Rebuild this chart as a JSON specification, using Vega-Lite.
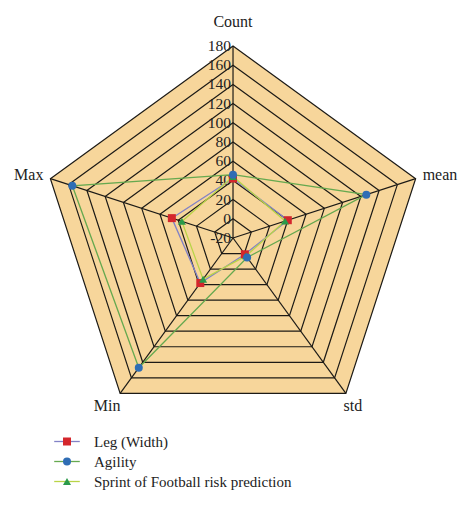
{
  "$schema": "https://vega.github.io/schema/vega-lite/v6.json",
  "description": "Radar chart of Leg (Width), Agility and Sprint statistics.",
  "width": 474,
  "height": 505,
  "padding": 0,
  "autosize": {"type": "none"},
  "background": "white",
  "config": {"view": {"stroke": null}},
  "datasets": {
    "axes": [
      {"axis": "Count", "levels": [-20, 0, 20, 40, 60, 80, 100, 120, 140, 160, 180]},
      {"axis": "mean", "levels": [-20, 0, 20, 40, 60, 80, 100, 120, 140, 160, 180]},
      {"axis": "std", "levels": [-20, 0, 20, 40, 60, 80, 100, 120, 140, 160, 180]},
      {"axis": "Min", "levels": [-20, 0, 20, 40, 60, 80, 100, 120, 140, 160, 180]},
      {"axis": "Max", "levels": [-20, 0, 20, 40, 60, 80, 100, 120, 140, 160, 180]}
    ],
    "scores": [
      {"series": "Leg (Width)", "axis": "Count", "value": 42},
      {"series": "Leg (Width)", "axis": "mean", "value": 40},
      {"series": "Leg (Width)", "axis": "std", "value": 1},
      {"series": "Leg (Width)", "axis": "Min", "value": 38},
      {"series": "Leg (Width)", "axis": "Max", "value": 47},
      {"series": "Sprint of Football risk prediction", "axis": "Count", "value": 44},
      {"series": "Sprint of Football risk prediction", "axis": "mean", "value": 37},
      {"series": "Sprint of Football risk prediction", "axis": "std", "value": 3},
      {"series": "Sprint of Football risk prediction", "axis": "Min", "value": 33},
      {"series": "Sprint of Football risk prediction", "axis": "Max", "value": 36},
      {"series": "Agility", "axis": "Count", "value": 46},
      {"series": "Agility", "axis": "mean", "value": 126},
      {"series": "Agility", "axis": "std", "value": 5},
      {"series": "Agility", "axis": "Min", "value": 147},
      {"series": "Agility", "axis": "Max", "value": 156}
    ]
  },
  "encoding": {
    "x": {"field": "px", "type": "quantitative", "scale": {"domain": [-242.7, 251.0], "nice": false, "zero": false}, "axis": null},
    "y": {"field": "py", "type": "quantitative", "scale": {"domain": [-278.1, 247.9], "nice": false, "zero": false}, "axis": null}
  },
  "layer": [
    {
      "data": {"name": "axes"},
      "transform": [
        {"calculate": "indexof(['Count','mean','std','Min','Max'], datum.axis)", "as": "i"},
        {"calculate": "PI/2 - datum.i*2*PI/5", "as": "ang"},
        {"calculate": "200*cos(datum.ang)", "as": "px"},
        {"calculate": "200*sin(datum.ang)", "as": "py"}
      ],
      "mark": {"type": "line", "interpolate": "linear-closed", "fill": "#F7D69B", "strokeWidth": 0},
      "encoding": {"order": {"field": "i"}}
    },
    {
      "data": {"name": "axes"},
      "transform": [
        {"flatten": ["levels"], "as": ["level"]},
        {"calculate": "indexof(['Count','mean','std','Min','Max'], datum.axis)", "as": "i"},
        {"calculate": "PI/2 - datum.i*2*PI/5", "as": "ang"},
        {"calculate": "(datum.level+20)*cos(datum.ang)", "as": "px"},
        {"calculate": "(datum.level+20)*sin(datum.ang)", "as": "py"}
      ],
      "mark": {"type": "line", "interpolate": "linear-closed", "color": "#1c1a16", "strokeWidth": 1.2},
      "encoding": {"detail": {"field": "level"}, "order": {"field": "i"}}
    },
    {
      "data": {"name": "axes"},
      "transform": [
        {"calculate": "indexof(['Count','mean','std','Min','Max'], datum.axis)", "as": "i"},
        {"calculate": "PI/2 - datum.i*2*PI/5", "as": "ang"},
        {"calculate": "200*cos(datum.ang)", "as": "px"},
        {"calculate": "200*sin(datum.ang)", "as": "py"}
      ],
      "mark": {"type": "rule", "color": "#1c1a16", "strokeWidth": 1.2},
      "encoding": {"x2": {"datum": 0}, "y2": {"datum": 0}}
    },
    {
      "data": {"name": "axes"},
      "transform": [
        {"filter": "datum.axis === 'Count'"},
        {"flatten": ["levels"], "as": ["level"]},
        {"calculate": "0", "as": "px"},
        {"calculate": "datum.level+20", "as": "py"}
      ],
      "mark": {"type": "text", "align": "right", "baseline": "middle", "dx": -2, "font": "Liberation Serif", "fontSize": 15.5, "color": "#222"},
      "encoding": {"text": {"field": "level"}}
    },
    {
      "data": {"name": "scores"},
      "transform": [
        {"calculate": "indexof(['Count','mean','std','Min','Max'], datum.axis)", "as": "i"},
        {"calculate": "PI/2 - datum.i*2*PI/5", "as": "ang"},
        {"calculate": "(datum.value+20)*cos(datum.ang)", "as": "px"},
        {"calculate": "(datum.value+20)*sin(datum.ang)", "as": "py"}
      ],
      "mark": {"type": "line", "interpolate": "linear-closed", "strokeWidth": 1.3},
      "encoding": {
        "order": {"field": "i"},
        "stroke": {
          "field": "series",
          "type": "nominal",
          "sort": ["Leg (Width)", "Agility", "Sprint of Football risk prediction"],
          "scale": {"range": ["#8282c6", "#66a94f", "#b9d447"]},
          "legend": {
            "orient": "none", "legendX": 59.5, "legendY": 434, "title": null, "padding": 0,
            "symbolType": "M-3.2,0H3.2", "symbolSize": 64, "symbolStrokeWidth": 1.3, "symbolFillColor": "transparent",
            "labelFont": "Liberation Serif", "labelFontSize": 15, "labelLimit": 0, "labelOffset": 19.5, "labelOpacity": 0, "rowPadding": 4
          }
        }
      }
    },
    {
      "data": {"name": "scores"},
      "transform": [
        {"calculate": "indexof(['Count','mean','std','Min','Max'], datum.axis)", "as": "i"},
        {"calculate": "PI/2 - datum.i*2*PI/5", "as": "ang"},
        {"calculate": "(datum.value+20)*cos(datum.ang)", "as": "px"},
        {"calculate": "(datum.value+20)*sin(datum.ang)", "as": "py"}
      ],
      "mark": {"type": "point", "filled": true, "size": 64, "opacity": 1, "strokeWidth": 0},
      "encoding": {
        "fill": {
          "field": "series",
          "type": "nominal",
          "scale": {"domain": ["Leg (Width)", "Agility", "Sprint of Football risk prediction"], "range": ["#d4262c", "#2f6db4", "#2a9a4a"]},
          "legend": {
            "orient": "none", "legendX": 59.5, "legendY": 434, "title": null, "padding": 0,
            "symbolSize": 64, "symbolStrokeWidth": 0, "symbolOpacity": 1,
            "labelFont": "Liberation Serif", "labelFontSize": 15, "labelLimit": 0, "labelColor": "#222", "labelOffset": 19.5, "rowPadding": 4
          }
        },
        "shape": {
          "field": "series",
          "type": "nominal",
          "scale": {"domain": ["Leg (Width)", "Agility", "Sprint of Football risk prediction"], "range": ["square", "circle", "triangle-up"]},
          "legend": {
            "orient": "none", "legendX": 59.5, "legendY": 434, "title": null, "padding": 0,
            "symbolSize": 64, "symbolStrokeWidth": 0, "symbolOpacity": 1,
            "labelFont": "Liberation Serif", "labelFontSize": 15, "labelLimit": 0, "labelColor": "#222", "labelOffset": 19.5, "rowPadding": 4
          }
        }
      }
    },
    {
      "data": {"name": "axes"},
      "transform": [
        {"filter": "datum.axis === 'Count'"},
        {"calculate": "0", "as": "px"},
        {"calculate": "200", "as": "py"}
      ],
      "mark": {"type": "text", "align": "center", "baseline": "middle", "dy": -24, "font": "Liberation Serif", "fontSize": 16, "color": "#222"},
      "encoding": {"text": {"field": "axis"}}
    },
    {
      "data": {"name": "axes"},
      "transform": [
        {"filter": "datum.axis === 'mean'"},
        {"calculate": "200*cos(PI/2 - 2*PI/5)", "as": "px"},
        {"calculate": "200*sin(PI/2 - 2*PI/5)", "as": "py"}
      ],
      "mark": {"type": "text", "align": "left", "baseline": "middle", "dx": 7, "dy": -4, "font": "Liberation Serif", "fontSize": 16, "color": "#222"},
      "encoding": {"text": {"field": "axis"}}
    },
    {
      "data": {"name": "axes"},
      "transform": [
        {"filter": "datum.axis === 'std'"},
        {"calculate": "200*cos(PI/2 - 4*PI/5)", "as": "px"},
        {"calculate": "200*sin(PI/2 - 4*PI/5)", "as": "py"}
      ],
      "mark": {"type": "text", "align": "center", "baseline": "middle", "dx": 7, "dy": 13, "font": "Liberation Serif", "fontSize": 16, "color": "#222"},
      "encoding": {"text": {"field": "axis"}}
    },
    {
      "data": {"name": "axes"},
      "transform": [
        {"filter": "datum.axis === 'Min'"},
        {"calculate": "200*cos(PI/2 - 6*PI/5)", "as": "px"},
        {"calculate": "200*sin(PI/2 - 6*PI/5)", "as": "py"}
      ],
      "mark": {"type": "text", "align": "center", "baseline": "middle", "dx": -13, "dy": 13, "font": "Liberation Serif", "fontSize": 16, "color": "#222"},
      "encoding": {"text": {"field": "axis"}}
    },
    {
      "data": {"name": "axes"},
      "transform": [
        {"filter": "datum.axis === 'Max'"},
        {"calculate": "200*cos(PI/2 - 8*PI/5)", "as": "px"},
        {"calculate": "200*sin(PI/2 - 8*PI/5)", "as": "py"}
      ],
      "mark": {"type": "text", "align": "right", "baseline": "middle", "dx": -7, "dy": -4, "font": "Liberation Serif", "fontSize": 16, "color": "#222"},
      "encoding": {"text": {"field": "axis"}}
    }
  ]
}
